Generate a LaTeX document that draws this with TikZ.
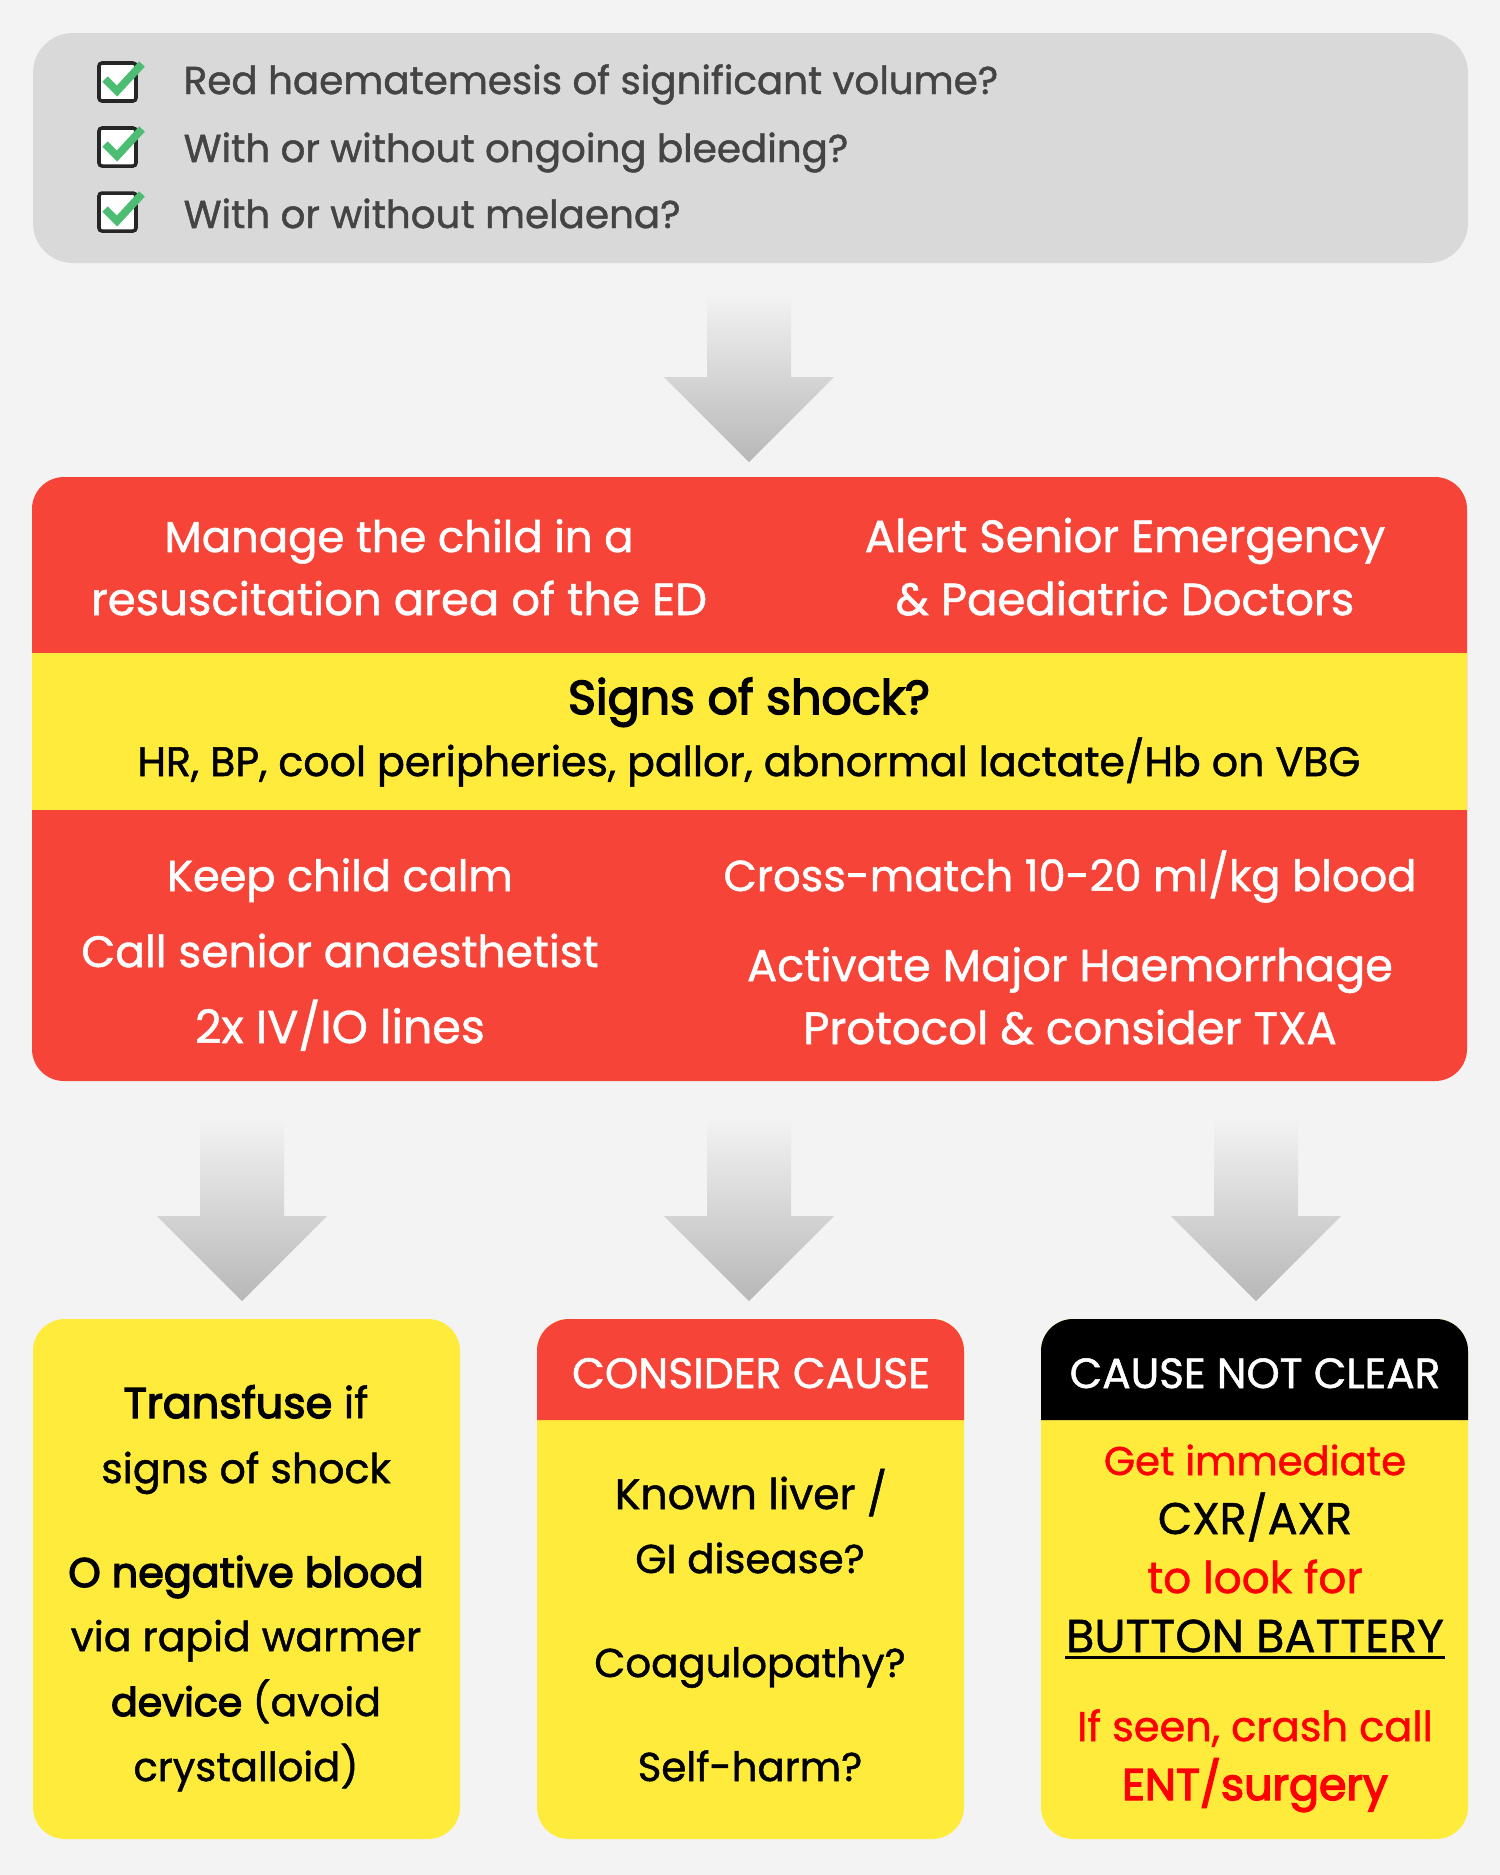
\documentclass[tikz,border=0pt]{standalone}
\usepackage{fontspec}
\setmainfont{Poppins}[FakeBold=1.2]
\newfontfamily\strongfont{Poppins}[FakeBold=3.2]
\definecolor{pagebg}{HTML}{F3F3F3}
\definecolor{greybox}{HTML}{D9D9D9}
\definecolor{greytext}{HTML}{444444}
\definecolor{redbox}{HTML}{F64538}
\definecolor{yellowbox}{HTML}{FFEB3B}
\definecolor{tickgreen}{HTML}{4DBD74}
\definecolor{alertred}{HTML}{FF0000}
\tikzset{
	textline/.style = {anchor=base, inner sep=0pt, font=\fontsize{#1}{14}\selectfont},
	whiteline/.style = {textline=#1, text=white},
	blackline/.style = {textline=#1, text=black},
	alertline/.style = {textline=#1, text=alertred},
	checkline/.style = {textline=11.05, anchor=base west, text=greytext}
}
\begin{document}
\begin{tikzpicture}[x=0.01cm, y=-0.01cm]
		\useasboundingbox (0,0) rectangle (1500,1875);
		\fill[pagebg] (0,0) rectangle (1500,1875);

		% top question box
		\fill[greybox, rounded corners=0.4cm] (33,33) rectangle (1468,263);
		\foreach \y in {0,65,130} {
			\draw[black!85, line width=1pt, fill=white, rounded corners=0.03cm] (99,63+\y) rectangle (136,101+\y);
			\draw[tickgreen, line width=2.2pt] (105,79+\y) -- (117,91+\y) -- (142,64+\y);
		}
		\node[checkline] (qvolume) at (183,94) {Red haematemesis of significant volume?};
		\node[checkline] (qongoing) at (183,162) {With or without ongoing bleeding?};
		\node[checkline] (qmelaena) at (183,228) {With or without melaena?};

		% block arrows
		\foreach \x/\y/\top in {749/0/292, 242/839/279, 749/839/279, 1256/839/279} {
			\shade[top color=pagebg, bottom color=black!28] (\x-42,\top+\y) -- (\x+42,\top+\y) -- (\x+42,377+\y) -- (\x+85,377+\y) -- (\x,462+\y) -- (\x-85,377+\y) -- (\x-42,377+\y) -- cycle;
		}

		% main red panel with yellow band
		\fill[redbox, rounded corners=0.32cm] (32,477) rectangle (1467,1081);
		\fill[yellowbox] (32,653) rectangle (1467,810);
		\node[whiteline=12.33] (manage) at (399,552) {Manage the child in a};
		\node[whiteline=12.8] (resus) at (399,615) {resuscitation area of the ED};
		\node[whiteline=12.8] (alert) at (1125,552) {Alert Senior Emergency};
		\node[whiteline=12.8] (doctors) at (1125,615) {\& Paediatric Doctors};
		\node[blackline=13.5, font=\fontsize{13.5}{14}\strongfont] (shock) at (749,714) {Signs of shock?};
		\node[blackline=11.7] (signs) at (749,776) {HR, BP, cool peripheries, pallor, abnormal lactate/Hb on VBG};
		\node[whiteline=12.25] (calm) at (340,891) {Keep child calm};
		\node[whiteline=12.5] (anaes) at (340,967) {Call senior anaesthetist};
		\node[whiteline=13.1] (lines) at (340,1043) {2x IV/IO lines};
		\node[whiteline=12.3] (crossmatch) at (1070,891) {Cross-match 10-20 ml/kg blood};
		\node[whiteline=12.7] (major) at (1070,981) {Activate Major Haemorrhage};
		\node[whiteline=12.87] (txa) at (1070,1044) {Protocol \& consider TXA};

		% bottom boxes
		\fill[yellowbox, rounded corners=0.32cm] (33,1319) rectangle (460,1839);
		\fill[yellowbox, rounded corners=0.32cm] (537,1319) rectangle (964,1839);
		\fill[yellowbox, rounded corners=0.32cm] (1041,1319) rectangle (1468,1839);
		\fill[redbox] (537,1420) [rounded corners=0.32cm] -- (537,1319) -- (964,1319) [sharp corners] -- (964,1420) -- cycle;
		\fill[black] (1041,1420) [rounded corners=0.32cm] -- (1041,1319) -- (1468,1319) [sharp corners] -- (1468,1420) -- cycle;
		\node[whiteline=12.1] (consider) at (751,1388) {CONSIDER CAUSE};
		\node[whiteline=12] (notclear) at (1255,1388) {CAUSE NOT CLEAR};

		\node[blackline=12.2] (transfuse) at (246,1418) {{\strongfont Transfuse} if};
		\node[blackline=11.7] (ifshock) at (246,1483) {signs of shock};
		\node[blackline=11.75] (oneg) at (246,1587) {{\strongfont O negative blood}};
		\node[blackline=11.65] (rapid) at (246,1651) {via rapid warmer};
		\node[blackline=11.2] (device) at (246,1716) {{\strongfont device} (avoid};
		\node[blackline=11.4] (crystal) at (246,1781) {crystalloid)};

		\node[blackline=12.1] (liver) at (751,1509) {Known liver /};
		\node[blackline=11.45] (gi) at (750,1573) {GI disease?};
		\node[blackline=11.45] (coag) at (750,1677) {Coagulopathy?};
		\node[blackline=11.45] (harm) at (750,1781) {Self-harm?};

		\node[alertline=11.4] (immediate) at (1255,1475) {Get immediate};
		\node[blackline=12.6] (cxr) at (1255,1534) {CXR/AXR};
		\node[alertline=12.45] (lookfor) at (1255,1593) {to look for};
		\node[blackline=13.1] (battery) at (1255,1652) {BUTTON BATTERY};
		\draw[line width=0.85pt] ([yshift=-0.05cm]battery.base west) -- ([yshift=-0.05cm]battery.base east);
		\node[alertline=11.8] (seen) at (1255,1741) {If seen, crash call};
		\node[alertline=12.6, font=\fontsize{12.6}{14}\strongfont] (ent) at (1255,1800) {ENT/surgery};
	\end{tikzpicture}
\end{document}
